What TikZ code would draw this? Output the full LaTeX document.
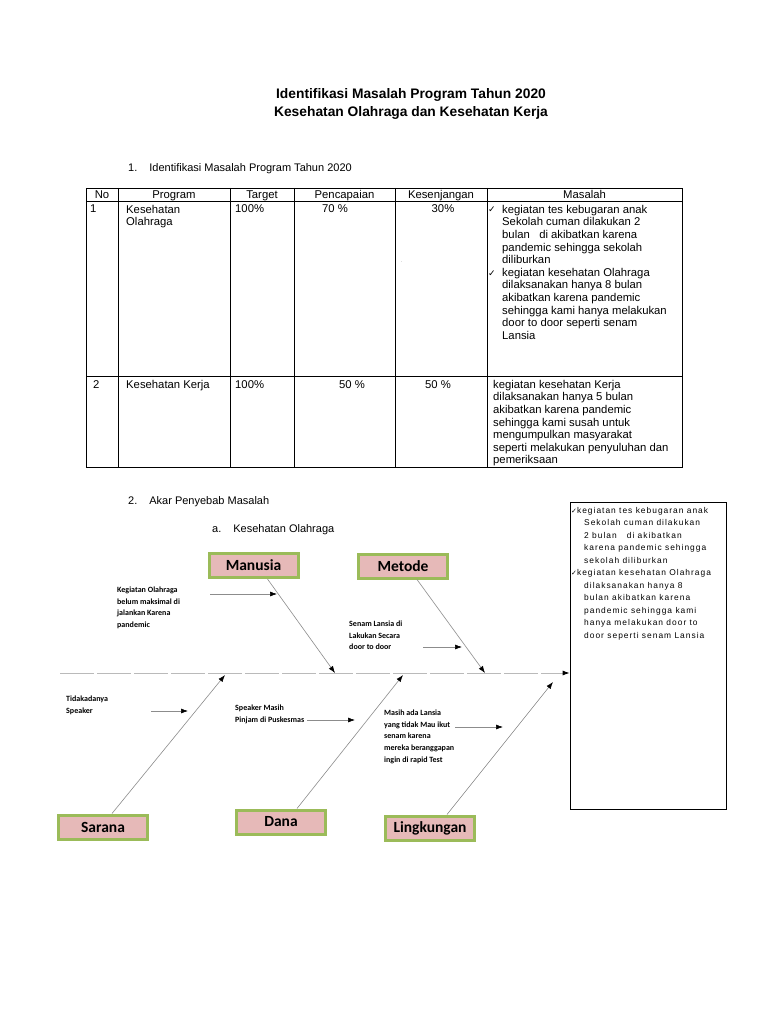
\documentclass[tikz,border=0pt]{standalone}
\usepackage{fontspec}
\setmainfont{Liberation Sans}
\newfontfamily\carlito{Carlito}
\newfontfamily\dejavu{DejaVu Sans}
\newfontfamily\spaced[LetterSpace=12]{Liberation Sans}
\usetikzlibrary{arrows.meta}

\definecolor{boxpink}{HTML}{E6B9B8}
\definecolor{boxgreen}{HTML}{9BBB59}
\definecolor{bonegray}{HTML}{8C8C8C}

\newcommand{\cek}[1]{{\dejavu\fontsize{#1}{#1}\selectfont ✓}}

\tikzset{
  txt/.style={anchor=base west, inner sep=0, font=\fontsize{11}{12.7}\selectfont},
  cell/.style={anchor=base west, inner sep=0, align=left, font=\fontsize{11.3}{12.6}\selectfont},
  cellblock/.style={cell, anchor=north west},
  causebox/.style={draw=boxgreen, line width=3pt, fill=boxpink, minimum width=89pt,
    minimum height=24pt, inner sep=0, font=\carlito\bfseries\fontsize{15.5}{17}\selectfont},
  note/.style={anchor=north west, inner sep=0, align=left, font=\carlito\bfseries\fontsize{8}{11.8}\selectfont},
  bone/.style={draw=bonegray, line width=0.6pt, -{Latex[length=7pt,width=5pt,color=black]}},
  spine/.style={draw=bonegray!60, line width=0.8pt, dash pattern=on 34pt off 3pt,
    -{Latex[length=7pt,width=5pt,color=black]}},
}

\begin{document}
\begin{tikzpicture}[x=1pt,y=-1pt]
\useasboundingbox[fill=white] (0,0) rectangle (768,1024);

% judul
\node[font=\bfseries\fontsize{13.8}{18}\selectfont, align=center] (judul) at (411,104)
  {Identifikasi Masalah Program Tahun 2020\\Kesehatan Olahraga dan Kesehatan Kerja};
\node[txt] (bagian1) at (128,172) {1.\hspace{12pt}Identifikasi Masalah Program Tahun 2020};

% tabel
\draw[line width=0.8pt] (86,188) rectangle (682,467);
\draw[line width=0.6pt] (86,201) -- (682,201) (86,376) -- (682,376);
\foreach \x in {118,230,294,395,487}
  \draw[line width=0.6pt] (\x,188) -- (\x,467);
\foreach \x/\t [count=\i] in {102/No,174/Program,262/Target,344.5/Pencapaian,441/Kesenjangan,584.5/Masalah}
  \node[cell, anchor=base] (kepala\i) at (\x,199) {\t};

% baris 1
\node[cell] (no1) at (90,213) {1};
\node[cellblock] (prog1) at (126,205) {Kesehatan\\Olahraga};
\node[cell] (target1) at (235,213) {100\%};
\node[cell, anchor=base] (capai1) at (335,213) {70 \%};
\node[cell, anchor=base] (senjang1) at (443,213) {30\%};
\node[cell, font=\fontsize{5}{5}\selectfont, text=gray] (titik) at (401,262) {.};
\node[cell] (cek1) at (488,213) {\cek{9}};
\node[cellblock] (masalah1a) at (502,205) {kegiatan tes kebugaran anak\\Sekolah cuman dilakukan 2\\bulan \ \ di akibatkan karena\\pandemic sehingga sekolah\\diliburkan};
\node[cell] (cek2) at (488,276) {\cek{9}};
\node[cellblock] (masalah1b) at (502,268) {kegiatan kesehatan Olahraga\\dilaksanakan hanya 8 bulan\\akibatkan karena pandemic\\sehingga kami hanya melakukan\\door to door seperti senam\\Lansia};

% baris 2
\node[cell] (no2) at (93,388) {2};
\node[cell] (prog2) at (126,388) {Kesehatan Kerja};
\node[cell] (target2) at (235,388) {100\%};
\node[cell, anchor=base] (capai2) at (352,388) {50 \%};
\node[cell, anchor=base] (senjang2) at (438,388) {50 \%};
\node[cellblock] (masalah2) at (493,380) {kegiatan kesehatan Kerja\\dilaksanakan hanya 5 bulan\\akibatkan karena pandemic\\sehingga kami susah untuk\\mengumpulkan masyarakat\\seperti melakukan penyuluhan dan\\pemeriksaan};

\node[txt] (bagian2) at (128,504) {2.\hspace{12pt}Akar Penyebab Masalah};
\node[txt] (bagian2a) at (212,532) {a.\hspace{12pt}Kesehatan Olahraga};

% kotak masalah
\node[draw, line width=0.8pt, minimum width=156pt, minimum height=307pt, inner sep=0] (kotak) at (648,655.5) {};
\node[anchor=north west, inner sep=0, align=left, font=\spaced\fontsize{8.4}{12.5}\selectfont] (daftar) at (571,507)
  {\cek{7}kegiatan tes kebugaran anak\\
   \hspace*{13pt}Sekolah cuman dilakukan\\
   \hspace*{13pt}2 bulan \ \ di akibatkan\\
   \hspace*{13pt}karena pandemic sehingga\\
   \hspace*{13pt}sekolah diliburkan\\
   \cek{7}kegiatan kesehatan Olahraga\\
   \hspace*{13pt}dilaksanakan hanya 8\\
   \hspace*{13pt}bulan akibatkan karena\\
   \hspace*{13pt}pandemic sehingga kami\\
   \hspace*{13pt}hanya melakukan door to\\
   \hspace*{13pt}door seperti senam Lansia};

% tulang ikan
\coordinate (ekor) at (60,673);
\draw[spine] (ekor) -- (ekor -| kotak.west);

\node[causebox] (manusia) at (253.5,565.5) {Manusia};
\node[causebox] (metode) at (403,566) {Metode};
\node[causebox] (sarana) at (103,827) {Sarana};
\node[causebox] (dana) at (281,822) {Dana};
\node[causebox] (lingkungan) at (430,828) {Lingkungan};

\coordinate (tmanusia) at (335,673);
\coordinate (tmetode) at (485,673);
\coordinate (tsarana) at (225,675);
\coordinate (tdana) at (403,675);
\coordinate (tlingkungan) at (553,682);

\draw[bone] ([xshift=14pt]manusia.south) -- (tmanusia);
\draw[bone] ([xshift=14pt]metode.south) -- (tmetode);
\draw[bone] ([xshift=9pt]sarana.north) -- (tsarana);
\draw[bone] ([xshift=16pt]dana.north) -- (tdana);
\draw[bone] ([xshift=17pt]lingkungan.north) -- (tlingkungan);

% sebab
\node[note] (sebab1) at (117,586.5) {Kegiatan Olahraga\\belum maksimal di\\jalankan Karena\\pandemic};
\node[note] (sebab2) at (349,620.5) {Senam Lansia di\\Lakukan Secara\\door to door};
\node[note] (sebab3) at (66,695.5) {Tidakadanya\\Speaker};
\node[note] (sebab4) at (235,704.5) {Speaker Masih\\Pinjam di Puskesmas};
\node[note] (sebab5) at (384,709.5) {Masih ada Lansia\\yang tidak Mau ikut\\senam karena\\mereka beranggapan\\ingin di rapid Test};

\coordinate (a1) at (210,594); \coordinate (b1) at (277,594);
\coordinate (a2) at (423,647); \coordinate (b2) at (462,647);
\coordinate (a3) at (151,711); \coordinate (b3) at (188,711);
\coordinate (a4) at (307,720); \coordinate (b4) at (355,720);
\coordinate (a5) at (455,727); \coordinate (b5) at (503,727);
\foreach \i in {1,...,5}
  \draw[bone] (a\i) -- (b\i);
\end{tikzpicture}
\end{document}
